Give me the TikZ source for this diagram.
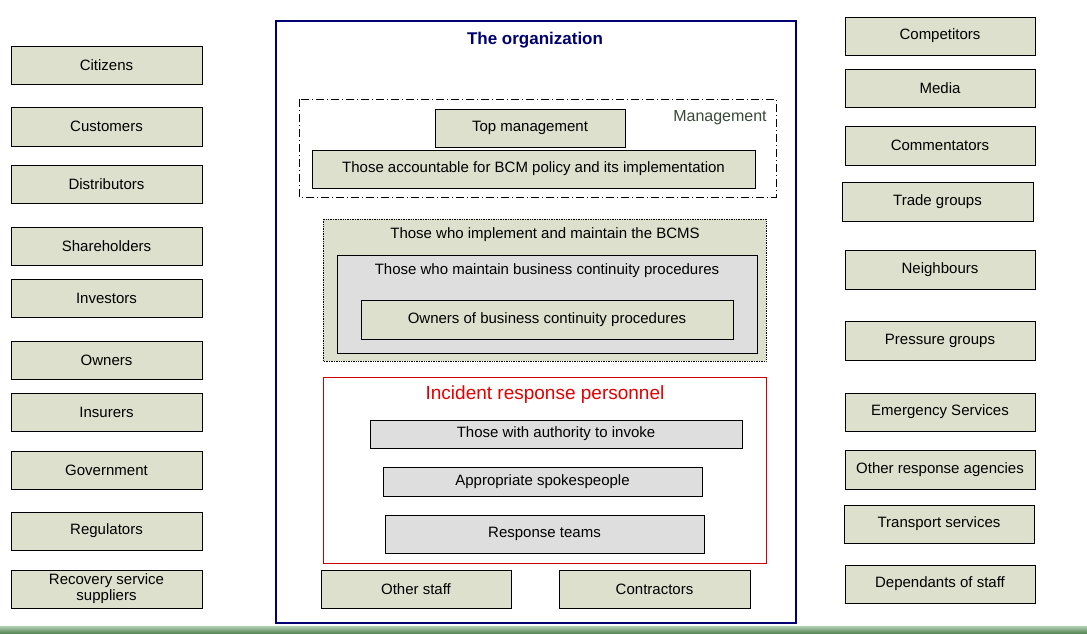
\documentclass[tikz,border=0pt]{standalone}
\usepackage{fontspec}
\setmainfont{Liberation Sans}
\begin{document}
\begin{tikzpicture}[x=1pt,y=-1pt,
  font=\fontsize{15}{17}\selectfont,
  bx/.style={draw=black,line width=1pt,fill=beige,inner sep=0pt,align=center},
  gx/.style={draw=black,line width=1pt,fill=lgray,inner sep=0pt,align=center}]
\definecolor{beige}{HTML}{DDE0CC}
\definecolor{lgray}{HTML}{DEDEDE}
\definecolor{navy}{HTML}{000070}
\definecolor{mgc}{HTML}{3A4A3A}
\useasboundingbox (0,0) rectangle (1087,633);
\fill[white] (0,0) rectangle (1087,633);
\shade[top color=black!30!gray!70!green!40, bottom color=black!40!green!30!gray] (0,626) rectangle (1087,633);
\newcommand{\bb}[7]{\node[#1,minimum width=#4-#2,minimum height=#5-#3] (#6) at ({(#2+#4)/2},{(#3+#5)/2}) {#7};}
% left
\bb{bx}{11}{46}{202}{84}{l1}{Citizens}
\bb{bx}{11}{107}{202}{146}{l2}{Customers}
\bb{bx}{11}{165}{202}{203}{l3}{Distributors}
\bb{bx}{11}{227}{202}{265}{l4}{Shareholders}
\bb{bx}{11}{279}{202}{317}{l5}{Investors}
\bb{bx}{11}{341}{202}{379}{l6}{Owners}
\bb{bx}{11}{393}{202}{431}{l7}{Insurers}
\bb{bx}{11}{451}{202}{489}{l8}{Government}
\bb{bx}{11}{512}{202}{550}{l9}{Regulators}
\bb{bx}{11}{570}{202}{608}{l10}{Recovery service\\[-1pt]suppliers}
% right
\bb{bx}{845}{17}{1035}{55}{r1}{Competitors}
\bb{bx}{845}{69}{1035}{107}{r2}{Media}
\bb{bx}{845}{126}{1035}{165}{r3}{Commentators}
\bb{bx}{842}{182}{1033}{221}{r4}{Trade groups}
\bb{bx}{845}{250}{1035}{289}{r5}{Neighbours}
\bb{bx}{845}{321}{1035}{360}{r6}{Pressure groups}
\bb{bx}{845}{393}{1035}{431}{r7}{Emergency Services}
\bb{bx}{845}{450}{1035}{489}{r8}{Other response agencies}
\bb{bx}{844}{505}{1034}{543}{r9}{Transport services}
\bb{bx}{845}{565}{1035}{603}{r10}{Dependants of staff}
% organization
\draw[navy,line width=2.5pt] (276,21) rectangle (796,623);
\node[navy,font=\fontsize{17}{19}\selectfont\bfseries] (org) at (535,40) {The organization};
% management
\draw[line width=0.8pt,dash pattern=on 8pt off 3pt on 1pt off 3pt] (299,99) rectangle (776,197);
\node[text=mgc,font=\fontsize{16}{18}\selectfont] (mg) at (720,118) {Management};
\bb{bx}{435}{109}{625}{147}{tm}{Top management}
\bb{bx}{312}{150}{755}{188}{acc}{Those accountable for BCM policy and its implementation}
% BCMS
\draw[line width=0.7pt,densely dotted,fill=beige] (323,219) rectangle (766,361);
\node (bcms) at (545,235) {Those who implement and maintain the BCMS};
\bb{gx}{337}{255}{757}{353}{mb}{}
\node (mbt) at (547,271) {Those who maintain business continuity procedures};
\bb{bx}{361}{300}{733}{339}{own}{Owners of business continuity procedures}
% incident
\draw[red!80!black,line width=0.8pt] (323,377) rectangle (766,563);
\node[red!90!black,font=\fontsize{19}{21}\selectfont] (inc) at (545,395) {Incident response personnel};
\bb{gx}{370}{420}{742}{448}{au}{Those with authority to invoke}
\bb{gx}{383}{467}{702}{496}{sp}{Appropriate spokespeople}
\bb{gx}{385}{515}{704}{553}{rt}{Response teams}
\bb{bx}{321}{570}{511}{608}{os}{Other staff}
\bb{bx}{559}{570}{750}{608}{co}{Contractors}
\end{tikzpicture}
\end{document}
